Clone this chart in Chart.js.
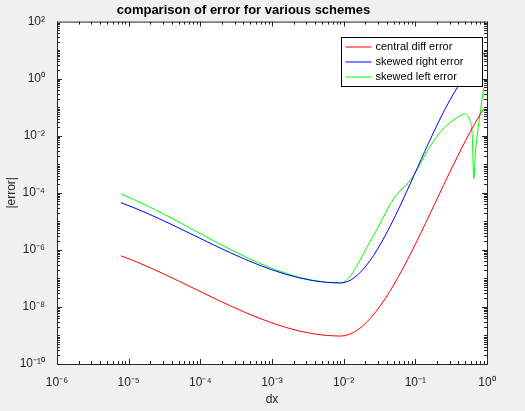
<!DOCTYPE html>
<html><head><script src="https://cdn.jsdelivr.net/npm/chart.js@4"></script>
<style>body{margin:0;background:#f0f0f0}#w{width:525px;height:411px}</style></head>
<body><div id="w"><canvas id="c"></canvas></div>
<script>
const centralX=[7.8e-6,0.009,0.90];
const centralY=[6.2e-7,9.5e-10,0.089];
const rightX=[7.8e-6,0.009,0.392,0.794,0.873,0.93];
const rightY=[4.5e-5,6.9e-8,0.52,6.9,8.1,6.5];
const leftX=[7.8e-6,0.009,0.0255,0.05,0.092,0.15,0.22,0.3,0.38,0.44,0.49,0.53,0.575,0.62,0.655,0.69,0.72,0.80,0.90];
const leftY=[9.1e-5,6.9e-8,2.9e-6,6.3e-5,3.6e-4,3.2e-3,0.0129,0.028,0.043,0.054,0.059,0.052,0.035,0.012,3.1e-4,0.0028,0.0072,0.06,0.48];
const xTicks=[-6,-5,-4,-3,-2,-1,0];
const yTicks=[-10,-8,-6,-4,-2,0,2];
const sup=n=>'10'+String(n).split('').map(c=>({'-':'⁻','0':'⁰','1':'¹','2':'²','3':'³','4':'⁴','5':'⁵','6':'⁶','7':'⁷','8':'⁸','9':'⁹'})[c]).join('');
const pts=(xs,ys)=>xs.map((x,i)=>({x,y:ys[i]}));
const ds=(label,xs,ys,col)=>({label,data:pts(xs,ys),borderColor:col,backgroundColor:col,showLine:true,pointRadius:0,borderWidth:1,tension:0.3,cubicInterpolationMode:'monotone'});
const ticksPlugin={id:'tk',afterDraw(ch){const c=ch.ctx,a=ch.chartArea,xs=ch.scales.x,ys=ch.scales.y;c.save();c.strokeStyle='#262626';c.lineWidth=1;
for(let e=-6;e<=0;e++)for(let m=1;m<10;m++){if(e==0&&m>1)break;const p=Math.round(xs.getPixelForValue(m*Math.pow(10,e)))+.5;const L=m==1?5:3;c.beginPath();c.moveTo(p,a.bottom);c.lineTo(p,a.bottom-L);c.moveTo(p,a.top);c.lineTo(p,a.top+L);c.stroke();}
for(let e=-10;e<=1;e++)for(let m=1;m<10;m++){const p=Math.round(ys.getPixelForValue(m*Math.pow(10,e)))+.5;const L=(m==1&&e%2==0)?5:3;c.beginPath();c.moveTo(a.left,p);c.lineTo(a.left+L,p);c.moveTo(a.right,p);c.lineTo(a.right-L,p);c.stroke();}
c.strokeRect(a.left+.5,a.top+.5,a.right-a.left,a.bottom-a.top);
const lx=341.5,ly=37.5,w=141,h=49;c.fillStyle='#fff';c.fillRect(lx,ly,w,h);c.strokeStyle='#000';c.strokeRect(lx,ly,w,h);
c.font='11px Arial, "Liberation Sans"';c.textBaseline='middle';
ch.data.datasets.forEach((d,i)=>{const y=ly+9.5+i*15;c.strokeStyle=d.borderColor;c.beginPath();c.moveTo(lx+4,y);c.lineTo(lx+30,y);c.stroke();c.fillStyle='#000';c.fillText(d.label,lx+34,y);});
c.restore();}};
const bg={id:'bg',beforeDraw(ch){const c=ch.ctx,a=ch.chartArea;c.save();c.fillStyle='#fff';c.fillRect(a.left,a.top,a.right-a.left,a.bottom-a.top);c.restore();}};
const F='Arial, "Liberation Sans"';
new Chart(document.getElementById('c'),{type:'scatter',
data:{datasets:[ds('central diff error',centralX,centralY,'#ff0000'),ds('skewed right error',rightX,rightY,'#0000ff'),ds('skewed left error',leftX,leftY,'#00ff00')]},
options:{responsive:true,maintainAspectRatio:false,animation:false,
layout:{padding:{top:0,right:38,left:0,bottom:0}},
plugins:{legend:{display:false},tooltip:{enabled:false},
title:{display:true,text:'comparison of error for various schemes',color:'#000',font:{size:13,weight:'bold',family:F},padding:{top:3,bottom:3}}},
scales:{
x:{type:'logarithmic',min:1e-6,max:1,afterFit(s){s.height=47;},afterBuildTicks(s){s.ticks=xTicks.map(e=>({value:Math.pow(10,e)}));},
grid:{display:false},border:{display:false},
ticks:{color:'#262626',font:{size:12,family:F},padding:3,maxRotation:0,autoSkip:false,callback:v=>sup(Math.round(Math.log10(v)))},
title:{display:true,text:'dx',color:'#262626',font:{size:12,family:F},padding:{top:2}}},
y:{type:'logarithmic',min:1e-10,max:100,afterFit(s){s.width=57;},afterBuildTicks(s){s.ticks=yTicks.map(e=>({value:Math.pow(10,e)}));},
grid:{display:false},border:{display:false},
ticks:{color:'#262626',font:{size:12,family:F},padding:4,autoSkip:false,callback:v=>sup(Math.round(Math.log10(v)))},
title:{display:true,text:'|error|',color:'#262626',font:{size:12,family:F},padding:{bottom:0}}}}},
plugins:[bg,ticksPlugin]});
</script></body></html>
